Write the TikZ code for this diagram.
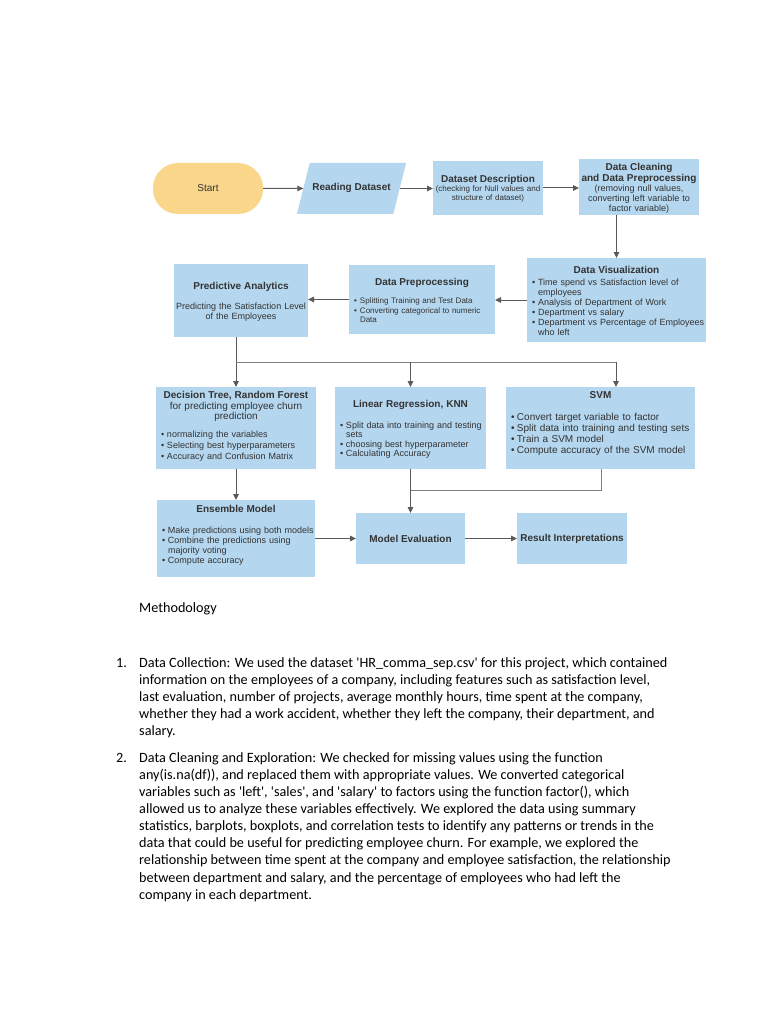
\documentclass[tikz,border=0pt]{standalone}
\usepackage{fontspec}
\setmainfont{Liberation Sans}
\newfontfamily\calibrifont{Carlito}
\usetikzlibrary{arrows.meta,shapes.geometric}
\definecolor{boxblue}{HTML}{B4D6EE}
\definecolor{startyel}{HTML}{F9D68A}
\definecolor{txt}{HTML}{333333}
\definecolor{ln}{HTML}{5A5A5A}
\definecolor{lnb}{HTML}{808080}
\newcommand\TT[1]{\par\noindent\hbox to\hsize{\hss\fontsize{10}{11.5}\selectfont\bfseries #1\hss}\par}
\newcommand\CL[1]{\par\noindent\hbox to\hsize{\hss #1\hss}\par}
\newcommand\BI[1]{\par\noindent\hbox to\hsize{\makebox[6pt][l]{\textbullet}#1\hss}\par}
\newcommand\BC[1]{\par\noindent\hbox to\hsize{\hspace{6pt}#1\hss}\par}
\newcommand\PL[1]{\hbox{#1}}
\newcommand\sq{\textquotesingle}
\begin{document}
\begin{tikzpicture}[x=1pt,y=-1pt,
  box/.style={fill=boxblue, text=txt, inner xsep=5pt, inner ysep=0pt, outer sep=0pt},
  sbox/.style={fill=boxblue, text=txt, inner sep=0pt, outer sep=0pt, font=\fontsize{10}{12}\selectfont\bfseries},
  arr/.style={draw=ln, line width=1pt, -{Triangle[length=6pt,width=5.5pt]}},
  con/.style={draw=lnb, line width=1pt},
  body/.style={inner sep=0pt, anchor=base west, text=black, font=\calibrifont\fontsize{14.2}{17.15}\selectfont}]
\fill[white] (0,0) rectangle (768,1024);
\useasboundingbox (0,0) rectangle (768,1024);

% ---- row 1
\node[fill=startyel, text=txt, rounded corners=25pt, minimum width=110pt, minimum height=51pt,
      inner sep=0pt, outer sep=0pt, font=\fontsize{10}{12}\selectfont] (start) at (208,188.5) {Start};
\node[fill=boxblue, text=txt, outer sep=0pt, font=\fontsize{10}{12}\selectfont\bfseries,
      trapezium, trapezium left angle=76, trapezium right angle=104, trapezium stretches body=true,
      text height=7pt, text depth=2pt, inner xsep=0pt, inner ysep=21pt,
      minimum width=109pt] (read) at (351.5,188.5) {Reading Dataset};
\node[box, inner xsep=2pt, text width=106pt, minimum height=54pt, font=\fontsize{8}{9}\selectfont] (dd) at (488,188) {%
  \TT{Dataset Description}%
  \CL{(checking for Null values and}%
  \CL{structure of dataset)}};
\node[box, inner xsep=2pt, text width=116pt, minimum height=56pt, font=\fontsize{9}{10}\selectfont] (dc) at (639,187) {%
  \TT{Data Cleaning}\vspace{1pt}%
  \TT{and Data Preprocessing}%
  \CL{(removing null values,}%
  \CL{converting left variable to}%
  \CL{factor variable)}};

% ---- row 2
\node[box, text width=169pt, minimum height=84pt, font=\fontsize{9}{10}\selectfont] (dv) at (616.5,300) {%
  \TT{Data Visualization}\vspace{2pt}%
  \BI{Time spend vs Satisfaction level of}\BC{employees}%
  \BI{Analysis of Department of Work}%
  \BI{Department vs salary}%
  \BI{Department vs Percentage of Employees}\BC{who left}};
\node[box, text width=136pt, minimum height=69pt, font=\fontsize{8}{9.3}\selectfont] (dp) at (422,299.5) {%
  \TT{Data Preprocessing}\vspace{8.5pt}%
  \BI{Splitting Training and Test Data}%
  \BI{Converting categorical to numeric}\BC{Data}};
\node[box, text width=124pt, minimum height=73pt, font=\fontsize{9}{10}\selectfont] (pa) at (241,300.5) {%
  \TT{Predictive Analytics}\vspace{10pt}%
  \CL{Predicting the Satisfaction Level}%
  \CL{of the Employees}};

% ---- row 3
\node[box, text width=150pt, minimum height=82pt, font=\fontsize{9}{11}\selectfont] (dt) at (236,428) {%
  \TT{Decision Tree, Random Forest}%
  {\fontsize{10}{10.5}\selectfont\CL{for predicting employee churn}\CL{prediction}}\vspace{7pt}%
  \BI{normalizing the variables}%
  \BI{Selecting best hyperparameters}%
  \BI{Accuracy and Confusion Matrix}\vspace{7pt}};
\node[box, text width=141pt, minimum height=82pt, font=\fontsize{9}{9.5}\selectfont] (lr) at (410.5,428) {%
  \TT{Linear Regression, KNN}\vspace{11.5pt}%
  \BI{Split data into training and testing}\BC{sets}%
  \BI{choosing best hyperparameter}%
  \BI{Calculating Accuracy}};
\node[box, text width=179pt, minimum height=82pt, font=\fontsize{10}{11}\selectfont] (svm) at (600.5,428) {%
  \TT{SVM}\vspace{11pt}%
  \BI{Convert target variable to factor}%
  \BI{Split data into training and testing sets}%
  \BI{Train a SVM model}%
  \BI{Compute accuracy of the SVM model}\vspace{12pt}};

% ---- row 4
\node[box, text width=148pt, minimum height=77pt, font=\fontsize{9}{10}\selectfont] (ens) at (236,538.5) {%
  \TT{Ensemble Model}\vspace{11pt}%
  \BI{Make predictions using both models}%
  \BI{Combine the predictions using}\BC{majority voting}%
  \BI{Compute accuracy}\vspace{10pt}};
\node[sbox, minimum width=109pt, minimum height=51pt] (me) at (410.5,538.5) {Model Evaluation};
\node[sbox, minimum width=110pt, minimum height=51pt] (ri) at (572,538.5) {Result Interpretations};

% ---- connectors
\draw[arr] (start) -- (read);
\draw[arr] (read.east) -- (read.east -| dd.west);
\draw[arr] (dd.east) -- (dd.east -| dc.west);
\draw[arr] (dv.north |- dc.south) -- (dv.north);
\draw[arr] (dv.west) -- (dv.west -| dp.east);
\draw[arr] (dp.west) -- (dp.west -| pa.east);
\coordinate (b1) at (236,362);
\coordinate (b3) at (616,362);
\draw[arr] (dt.north |- pa.south) -- (dt.north);
\draw[con] (b1) -- (b3);
\draw[arr] (b3) -- (b3 |- svm.north);
\draw[arr] (lr.north |- b1) -- (lr.north);
\draw[arr] (dt) -- (ens);
\draw[arr] (lr) -- (me);
\coordinate (s1) at (601,490);
\draw[con] (s1 |- svm.south) -- (s1) -- (s1 -| me.north);
\draw[arr] (ens.east) -- (ens.east -| me.west);
\draw[arr] (me) -- (ri);

% ---- text below
\node[body] (meth) at (139,612) {Methodology};
\node[body] (n1) at (116,667) {1.};
\node[body] (p1) at (139,667) {\vtop{%
  \PL{Data Collection: We used the dataset \sq HR\_comma\_sep.csv\sq{} for this project, which contained}
  \PL{information on the employees of a company, including features such as satisfaction level,}
  \PL{last evaluation, number of projects, average monthly hours, time spent at the company,}
  \PL{whether they had a work accident, whether they left the company, their department, and}
  \PL{salary.}}};
\node[body] (n2) at (116,762) {2.};
\node[body] (p2) at (139,762) {\vtop{%
  \PL{Data Cleaning and Exploration: We checked for missing values using the function}
  \PL{any(is.na(df)), and replaced them with appropriate values. We converted categorical}
  \PL{variables such as \sq left\sq, \sq sales\sq, and \sq salary\sq{} to factors using the function factor(), which}
  \PL{allowed us to analyze these variables effectively. We explored the data using summary}
  \PL{statistics, barplots, boxplots, and correlation tests to identify any patterns or trends in the}
  \PL{data that could be useful for predicting employee churn. For example, we explored the}
  \PL{relationship between time spent at the company and employee satisfaction, the relationship}
  \PL{between department and salary, and the percentage of employees who had left the}
  \PL{company in each department.}}};
\end{tikzpicture}
\end{document}
